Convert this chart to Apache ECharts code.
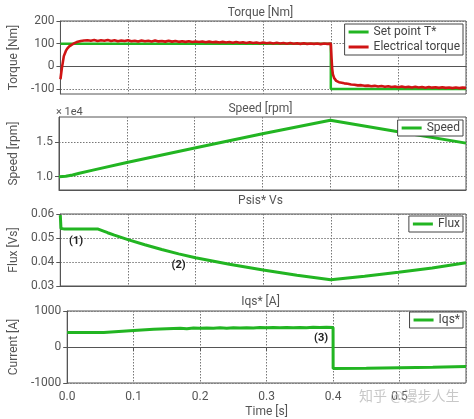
<!DOCTYPE html>
<html>
<head>
<meta charset="utf-8">
<script src="https://cdn.jsdelivr.net/npm/echarts@6/dist/echarts.min.js"></script>
<style>html,body{margin:0;padding:0;background:#fff}#c{width:474px;height:419px}</style>
</head>
<body>
<div id="c"></div>
<script>
// ---- data ----
const setPointTime = [0, 0.4, 0.4, 0.6];
const setPointTorque = [100, 100, -100, -100];

const elecTime = [0, 0.002, 0.005, 0.008, 0.01, 0.013, 0.017, 0.02, 0.024, 0.03, 0.035, 0.04,
  0.045, 0.05, 0.055, 0.06, 0.065, 0.07, 0.075, 0.08, 0.085, 0.09, 0.095, 0.10, 0.105, 0.11, 0.115, 0.12,
  0.125, 0.13, 0.135, 0.14, 0.145, 0.15, 0.155, 0.16, 0.165, 0.17, 0.175, 0.18, 0.185, 0.19, 0.195, 0.20,
  0.205, 0.21, 0.215, 0.22, 0.225, 0.23, 0.235, 0.24, 0.245, 0.25, 0.255, 0.26, 0.265, 0.27, 0.275, 0.28,
  0.285, 0.29, 0.295, 0.30, 0.305, 0.31, 0.315, 0.32, 0.325, 0.33, 0.335, 0.34, 0.345, 0.35, 0.355, 0.36,
  0.365, 0.37, 0.375, 0.38, 0.385, 0.39, 0.395, 0.40,
  0.401, 0.402, 0.403, 0.405, 0.408, 0.412, 0.42, 0.425, 0.43, 0.435, 0.44, 0.445, 0.45, 0.455, 0.46,
  0.465, 0.47, 0.475, 0.48, 0.485, 0.49, 0.495, 0.50, 0.505, 0.51, 0.515, 0.52, 0.525, 0.53, 0.535, 0.54,
  0.545, 0.55, 0.555, 0.56, 0.565, 0.57, 0.575, 0.58, 0.585, 0.59, 0.595, 0.60];
const elecTorque = [-57, -10, 45, 68, 78, 88, 96, 101, 107, 112, 114, 115,
  113, 116, 112, 115, 113, 116, 112, 115, 111, 114, 112, 115, 111, 113, 110, 114,
  111, 113, 110, 114, 110, 112, 109, 113, 109, 112, 108, 111, 108, 111, 107, 110,
  107, 110, 106, 109, 106, 108, 105, 108, 105, 107, 104, 107, 104, 106, 103, 106,
  103, 105, 102, 105, 102, 104, 101, 104, 101, 103, 100, 103, 100, 102, 99, 102,
  99, 101, 99, 101, 98, 101, 99, 100,
  40, -10, -35, -52, -64, -70, -75, -77, -80, -81, -84, -83, -86, -85, -88,
  -86, -89, -87, -90, -88, -91, -89, -92, -89, -92, -90, -93, -90, -93, -91, -94,
  -91, -94, -92, -95, -92, -95, -93, -96, -93, -96, -94, -95];

const speedTime = [0, 0.01, 0.02, 0.03, 0.05, 0.1, 0.2, 0.3, 0.4, 0.5, 0.6];
const speedRpm = [10000, 10050, 10250, 10500, 10950, 12050, 14150, 16200, 18150, 16500, 14850];

const fluxTime = [0, 0.001, 0.005, 0.055, 0.07, 0.08, 0.1, 0.125, 0.15, 0.175, 0.2, 0.25, 0.3, 0.35, 0.4, 0.45, 0.5, 0.55, 0.6];
const fluxVs = [0.0595, 0.0540, 0.0538, 0.0538, 0.0522, 0.0512, 0.0493, 0.0472, 0.0452, 0.0434, 0.0418, 0.0391, 0.0367, 0.0345, 0.0326, 0.0341, 0.0357, 0.0375, 0.0397];

const iqsTime = [0, 0.055, 0.1, 0.13, 0.16, 0.17, 0.18, 0.19, 0.2, 0.21, 0.22, 0.23, 0.24, 0.25, 0.26,
  0.27, 0.28, 0.29, 0.3, 0.31, 0.32, 0.33, 0.34, 0.35, 0.36, 0.37, 0.38, 0.39, 0.4, 0.4001, 0.45, 0.5, 0.55, 0.6];
const iqsA = [400, 400, 455, 490, 515, 520, 510, 525, 520, 530, 518, 532, 522, 535, 525,
  538, 528, 540, 532, 542, 534, 544, 536, 545, 538, 547, 540, 548, 542, -600, -590, -575, -560, -540];

const timeTicks = [0, 0.1, 0.2, 0.3, 0.4, 0.5, 0.6];
const torqueTicks = [-100, 0, 100, 200];
const speedTicks = [10000, 15000];
const fluxTicks = [0.03, 0.04, 0.05, 0.06];
const currentTicks = [-1000, 0, 1000];

const panelTitles = ['Torque [Nm]', 'Speed [rpm]', 'Psis* Vs', 'Iqs* [A]'];
const axisNames = ['Torque [Nm]', 'Speed [rpm]', 'Flux [Vs]', 'Current [A]'];
const notes = [
  { text: '(1)', coord: [0.0233, 0.0486] },
  { text: '(2)', coord: [0.175, 0.0386] },
  { text: '(3)', coord: [0.382, 254] }
];

// ---- chart ----
const pair = (t, v) => t.map((x, i) => [x, v[i]]);
const GREEN = '#22b522';
const RED = '#d01414';
const FONT = 'Roboto';
const TXT = '#555';
const GRIDLINE = { show: true, lineStyle: { color: '#777', type: [1.5, 1.5], width: 1 } };

const grids = [
  { top: 21, height: 73 },
  { top: 117, height: 73 },
  { top: 214, height: 72 },
  { top: 311, height: 73 }
].map(g => Object.assign({ left: 55, right: 8, show: true, borderColor: '#555', borderWidth: 1, backgroundColor: '#fff', containLabel: false }, g));

const xAxes = grids.map((g, i) => ({
  type: 'value', gridIndex: i, min: 0, max: 0.6,
  axisLine: { show: true, lineStyle: { color: '#555' } },
  axisTick: { show: i === 3, length: 4, lineStyle: { color: '#555' }, customValues: timeTicks },
  axisLabel: { show: i === 3, customValues: timeTicks, showMaxLabel: false, color: TXT, fontFamily: FONT, fontSize: 12, margin: 8,
    formatter: v => v === 0.6 ? '' : v.toFixed(1) },
  splitLine: GRIDLINE,
  name: i === 3 ? 'Time [s]' : '', nameLocation: 'middle', nameGap: 23,
  nameTextStyle: { color: TXT, fontFamily: FONT, fontSize: 12 }
}));

const yDefs = [
  { min: -122, max: 200, ticks: torqueTicks, fmt: v => String(v) },
  { min: 8070, max: 18630, ticks: speedTicks, fmt: v => (v / 1e4).toFixed(1) },
  { min: 0.03, max: 0.06, ticks: fluxTicks, fmt: v => v.toFixed(2) },
  { min: -1000, max: 1000, ticks: currentTicks, fmt: v => String(v) }
];
const yAxes = yDefs.map((d, i) => ({
  type: 'value', gridIndex: i, min: d.min, max: d.max,
  axisLine: { show: true, lineStyle: { color: '#555' } },
  axisTick: { show: true, length: 4, lineStyle: { color: '#555' }, customValues: d.ticks },
  axisLabel: { customValues: d.ticks, formatter: d.fmt, color: TXT, fontFamily: FONT, fontSize: 12, margin: 6 },
  splitLine: GRIDLINE,
  name: axisNames[i], nameLocation: 'middle', nameGap: 39, nameRotate: 90,
  nameTextStyle: { color: TXT, fontFamily: FONT, fontSize: 12 }
}));

const noteLabel = n => ({
  coord: n.coord, symbol: 'circle', symbolSize: 1, itemStyle: { color: 'rgba(0,0,0,0)' },
  label: { show: true, position: 'inside', formatter: n.text, color: '#222', fontWeight: 'bold', fontSize: 11, fontFamily: FONT }
});

const lineS = (name, data, idx, color, w, extra) => Object.assign({
  name, type: 'line', xAxisIndex: idx, yAxisIndex: idx, data, showSymbol: false,
  lineStyle: { color, width: w }, itemStyle: { color }, animation: false, z: 3
}, extra || {});

const series = [
  lineS('Set point T*', pair(setPointTime, setPointTorque), 0, GREEN, 2.5),
  lineS('Electrical torque', pair(elecTime, elecTorque), 0, RED, 2.6),
  lineS('Speed', pair(speedTime, speedRpm), 1, GREEN, 3),
  lineS('Flux', pair(fluxTime, fluxVs), 2, GREEN, 3, { markPoint: { data: [noteLabel(notes[0]), noteLabel(notes[1])], animation: false } }),
  lineS('Iqs*', pair(iqsTime, iqsA), 3, GREEN, 3, { markPoint: { data: [noteLabel(notes[2])], animation: false } })
];

const legendBase = {
  right: 11, orient: 'vertical', icon: 'rect', itemWidth: 20, itemHeight: 3, itemGap: 3,
  padding: [2, 3, 2, 4], borderColor: '#444', borderWidth: 1, backgroundColor: '#fff',
  textStyle: { color: '#444', fontFamily: FONT, fontSize: 12 }, selectedMode: false
};
const legends = [
  Object.assign({}, legendBase, { top: 24, data: ['Set point T*', 'Electrical torque'] }),
  Object.assign({}, legendBase, { top: 120, data: ['Speed'] }),
  Object.assign({}, legendBase, { top: 216, data: ['Flux'] }),
  Object.assign({}, legendBase, { top: 312, data: ['Iqs*'] })
];

const titleY = [13, 108.5, 201, 301.5];
const graphics = panelTitles.map((t, i) => ({
  type: 'text', x: 260.5, y: titleY[i],
  style: { text: t, fill: TXT, font: '12px ' + FONT, textAlign: 'center', textVerticalAlign: 'middle' }
}));
graphics.push({ type: 'text', x: 56, y: 112, style: { text: '× 1e4', fill: TXT, font: '11px ' + FONT, textAlign: 'left', textVerticalAlign: 'middle' } });
graphics.push({ type: 'text', x: 359, y: 396, z: 100, style: { text: '知乎 @漫步人生', fill: 'rgba(190,190,190,0.85)', font: '14px "Noto Sans CJK SC"', textAlign: 'left', textVerticalAlign: 'middle' } });

const chart = echarts.init(document.getElementById('c'), null, { renderer: 'canvas' });
chart.setOption({
  animation: false,
  backgroundColor: '#fff',
  grid: grids, xAxis: xAxes, yAxis: yAxes, series, legend: legends, graphic: graphics
});
</script>
</body>
</html>
